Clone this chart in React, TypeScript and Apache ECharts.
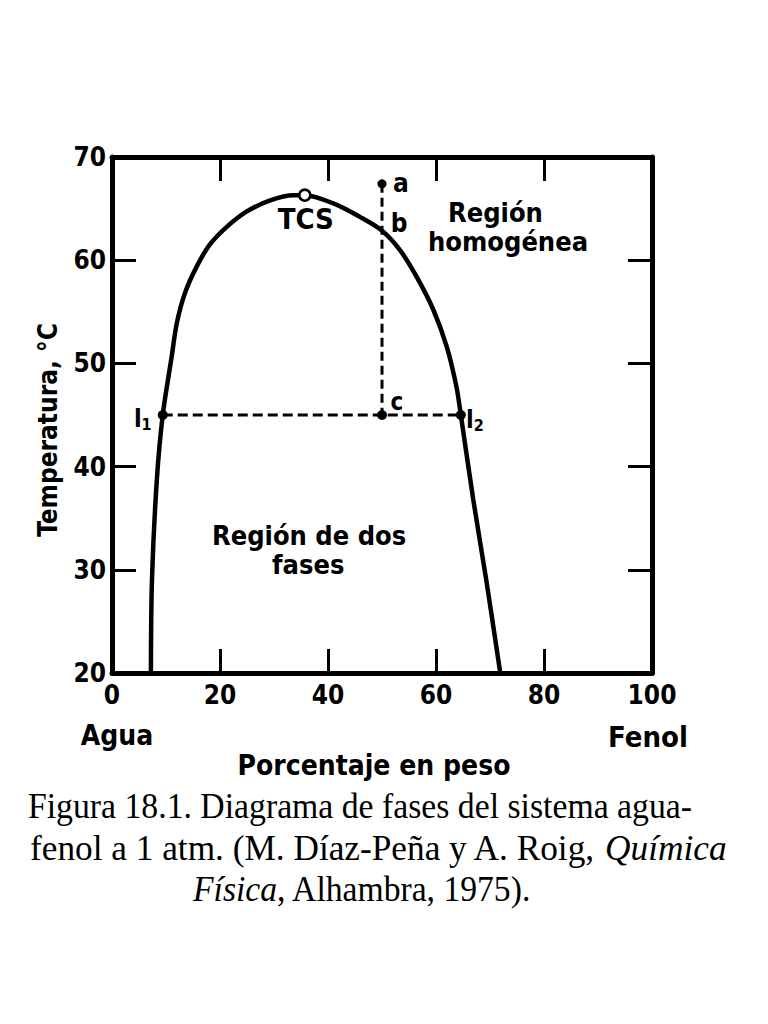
import React, { useEffect, useRef } from "react";
import * as echarts from "echarts";

// Coexistence curve (weight % phenol, temperature °C)
const curveX = [7.2, 7.4, 8.3, 9.4, 11.05, 12.0, 13.5, 15.7, 18.1, 21.2, 24.9, 29.3, 33.6, 35.7, 41.0, 45.9, 49.9, 53.3, 56.4, 59.5, 62.0, 63.8, 64.6, 66.9, 69.4, 71.9];
const curveT = [20, 29, 38.7, 45, 50.65, 53.9, 56.8, 59.4, 61.5, 63.2, 64.7, 65.8, 66.3, 66.3, 65.5, 64.2, 62.9, 61.0, 58.4, 55.2, 51.6, 47.7, 45, 36.8, 28.7, 20];

// Special points
const tcsPoint = [35.7, 66.3];
const tieT = 45;
const l1X = 9.4;
const l2X = 64.6;
const compX = 50;
const aT = 67.4;
const bT = 62.9;

const xTicks = [0, 20, 40, 60, 80, 100];
const yTicks = [20, 30, 40, 50, 60, 70];

const FONT = "'DejaVu Sans Condensed', 'DejaVu Sans', sans-serif";
const SERIF = "'Liberation Serif', 'DejaVu Serif', serif";

export default function App() {
  const ref = useRef<HTMLDivElement>(null);
  useEffect(() => {
    if (!ref.current) return;
    const chart = echarts.init(ref.current, undefined, { renderer: "svg" });
    const curve = curveX.map((x, i) => [x, curveT[i]]);
    const lbl = (fontSize: number) => ({
      color: "#000", fontFamily: FONT, fontWeight: "bold" as const, fontSize,
      textBorderWidth: 0, textBorderColor: "transparent",
    });
    const sub = {
      m: { ...lbl(25) },
      s: { ...lbl(16), padding: [12, 0, 0, 0] },
    };
    const tick = { show: true, inside: true, length: 24, lineStyle: { color: "#000", width: 3 } };
    const line = { show: true, onZero: false, lineStyle: { color: "#000", width: 5 } };
    const caption = (text: string, x: number, y: number, sx: number) => ({
      type: "text", x, y, scaleX: sx,
      style: {
        text, x: 0, y: 0, fill: "#000", font: `36px ${SERIF}`, textAlign: "left", textVerticalAlign: "bottom",
        rich: {
          n: { fontFamily: SERIF, fontSize: 36, color: "#000" },
          i: { fontFamily: SERIF, fontSize: 36, fontStyle: "italic", color: "#000" },
        },
      },
    });
    const txt = (text: string, x: number, y: number, size: number) => ({
      type: "text",
      style: { text, x, y, font: `bold ${size}px ${FONT}`, fill: "#000", textAlign: "center", textVerticalAlign: "middle" },
    });
    const block = (text: string, x: number, y: number, size: number, lh: number, rich: any) => ({
      type: "text",
      style: {
        text, x, y, font: `bold ${size}px ${FONT}`, fill: "#000", textAlign: "left", textVerticalAlign: "top",
        lineHeight: lh, rich,
      },
    });
    const rs = (pad: number, size: number, lh: number) => ({
      fontFamily: FONT, fontWeight: "bold", fontSize: size, color: "#000", lineHeight: lh, padding: [0, 0, 0, pad],
    });
    const itemBase = { opacity: 1 };
    chart.setOption({
      animation: false,
      backgroundColor: "#fff",
      grid: { left: 112, top: 157, right: 116, bottom: 351 },
      xAxis: [
        {
          type: "value", min: xTicks[0], max: xTicks[xTicks.length - 1], interval: 20, position: "bottom",
          axisLine: line, axisTick: tick,
          axisLabel: { ...lbl(26), margin: 9 },
          splitLine: { show: false },
        },
        {
          type: "value", min: xTicks[0], max: xTicks[xTicks.length - 1], interval: 20, position: "top",
          axisLine: line, axisTick: tick, axisLabel: { show: false }, splitLine: { show: false },
        },
      ],
      yAxis: [
        {
          type: "value", min: yTicks[0], max: yTicks[yTicks.length - 1], interval: 10, position: "left",
          axisLine: line, axisTick: tick,
          axisLabel: { ...lbl(26), margin: 6 },
          splitLine: { show: false },
        },
        {
          type: "value", min: yTicks[0], max: yTicks[yTicks.length - 1], interval: 10, position: "right",
          axisLine: line, axisTick: tick,
          axisLabel: { show: false }, splitLine: { show: false },
        },
      ],
      series: [
        {
          type: "line", data: curve, smooth: 0.3, showSymbol: false, symbol: "none",
          lineStyle: { color: "#000", width: 4.5 }, z: 3,
        },
        {
          type: "line", data: [[compX, aT], [compX, tieT]], showSymbol: false, symbol: "none",
          lineStyle: { color: "#000", width: 3, type: [9, 5] }, z: 2,
        },
        {
          type: "line", data: [[l1X, tieT], [l2X, tieT]], showSymbol: false, symbol: "none",
          lineStyle: { color: "#000", width: 3, type: [10, 5] }, z: 2,
        },
        {
          type: "scatter", z: 5,
          itemStyle: { opacity: 1 },
          data: [
            {
              value: tcsPoint, symbol: "circle", symbolSize: 11,
              itemStyle: { ...itemBase, color: "#fff", borderColor: "#000", borderWidth: 2.5 },
              label: { show: true, formatter: "TCS", position: "inside", offset: [1, 24], ...lbl(29) },
            },
            {
              value: [compX, aT], symbolSize: 9, itemStyle: { ...itemBase, color: "#000" },
              label: { show: true, formatter: "a", position: "inside", offset: [19, -1], ...lbl(26) },
            },
            {
              value: [compX, bT], symbolSize: 1, itemStyle: { ...itemBase, color: "#000" },
              label: { show: true, formatter: "b", position: "inside", offset: [17, -7], ...lbl(26) },
            },
            {
              value: [compX, tieT], symbolSize: 10, itemStyle: { ...itemBase, color: "#000" },
              label: { show: true, formatter: "c", position: "inside", offset: [15, -13], ...lbl(24) },
            },
            {
              value: [l1X, tieT], symbolSize: 10, itemStyle: { ...itemBase, color: "#000" },
              label: { show: true, formatter: "{m|l}{s|1}", position: "inside", offset: [-20, 3], rich: sub, ...lbl(25) },
            },
            {
              value: [l2X, tieT], symbolSize: 10, itemStyle: { ...itemBase, color: "#000" },
              label: { show: true, formatter: "{m|l}{s|2}", position: "inside", offset: [14, 4], rich: sub, ...lbl(25) },
            },
          ],
        },
      ],
      graphic: [
        block("{a|Región}\n{b|homogénea}", 428, 198, 27, 29, { a: rs(20, 27, 29), b: rs(0, 27, 29) }),
        block("{a|Región de dos}\n{b|fases}", 212, 521, 27, 29, { a: rs(0, 27, 29), b: rs(60, 27, 29) }),
        { type: "text", x: 48, y: 430, rotation: Math.PI / 2, style: { text: "Temperatura, °C", x: 0, y: 0, font: `bold 26px ${FONT}`, fill: "#000", textAlign: "center", textVerticalAlign: "middle" } },
        txt("Agua", 117, 735, 28),
        txt("Fenol", 648, 737, 29),
        txt("Porcentaje en peso", 374, 765, 28),
        caption("Figura 18.1. Diagrama de fases del sistema agua-", 28, 824, 0.937),
        caption("{n|fenol a 1 atm. (M. Díaz-Peña y A. Roig, }{i|Química}", 30, 866, 0.98),
        caption("{i|Física}{n|, Alhambra, 1975).}", 193, 907, 0.935),
      ],
    });
    return () => chart.dispose();
  }, []);
  return (
    <div
      ref={ref}
      style={{ position: "absolute", left: 0, top: 0, width: 768, height: 1024, background: "#fff" }}
    />
  );
}
